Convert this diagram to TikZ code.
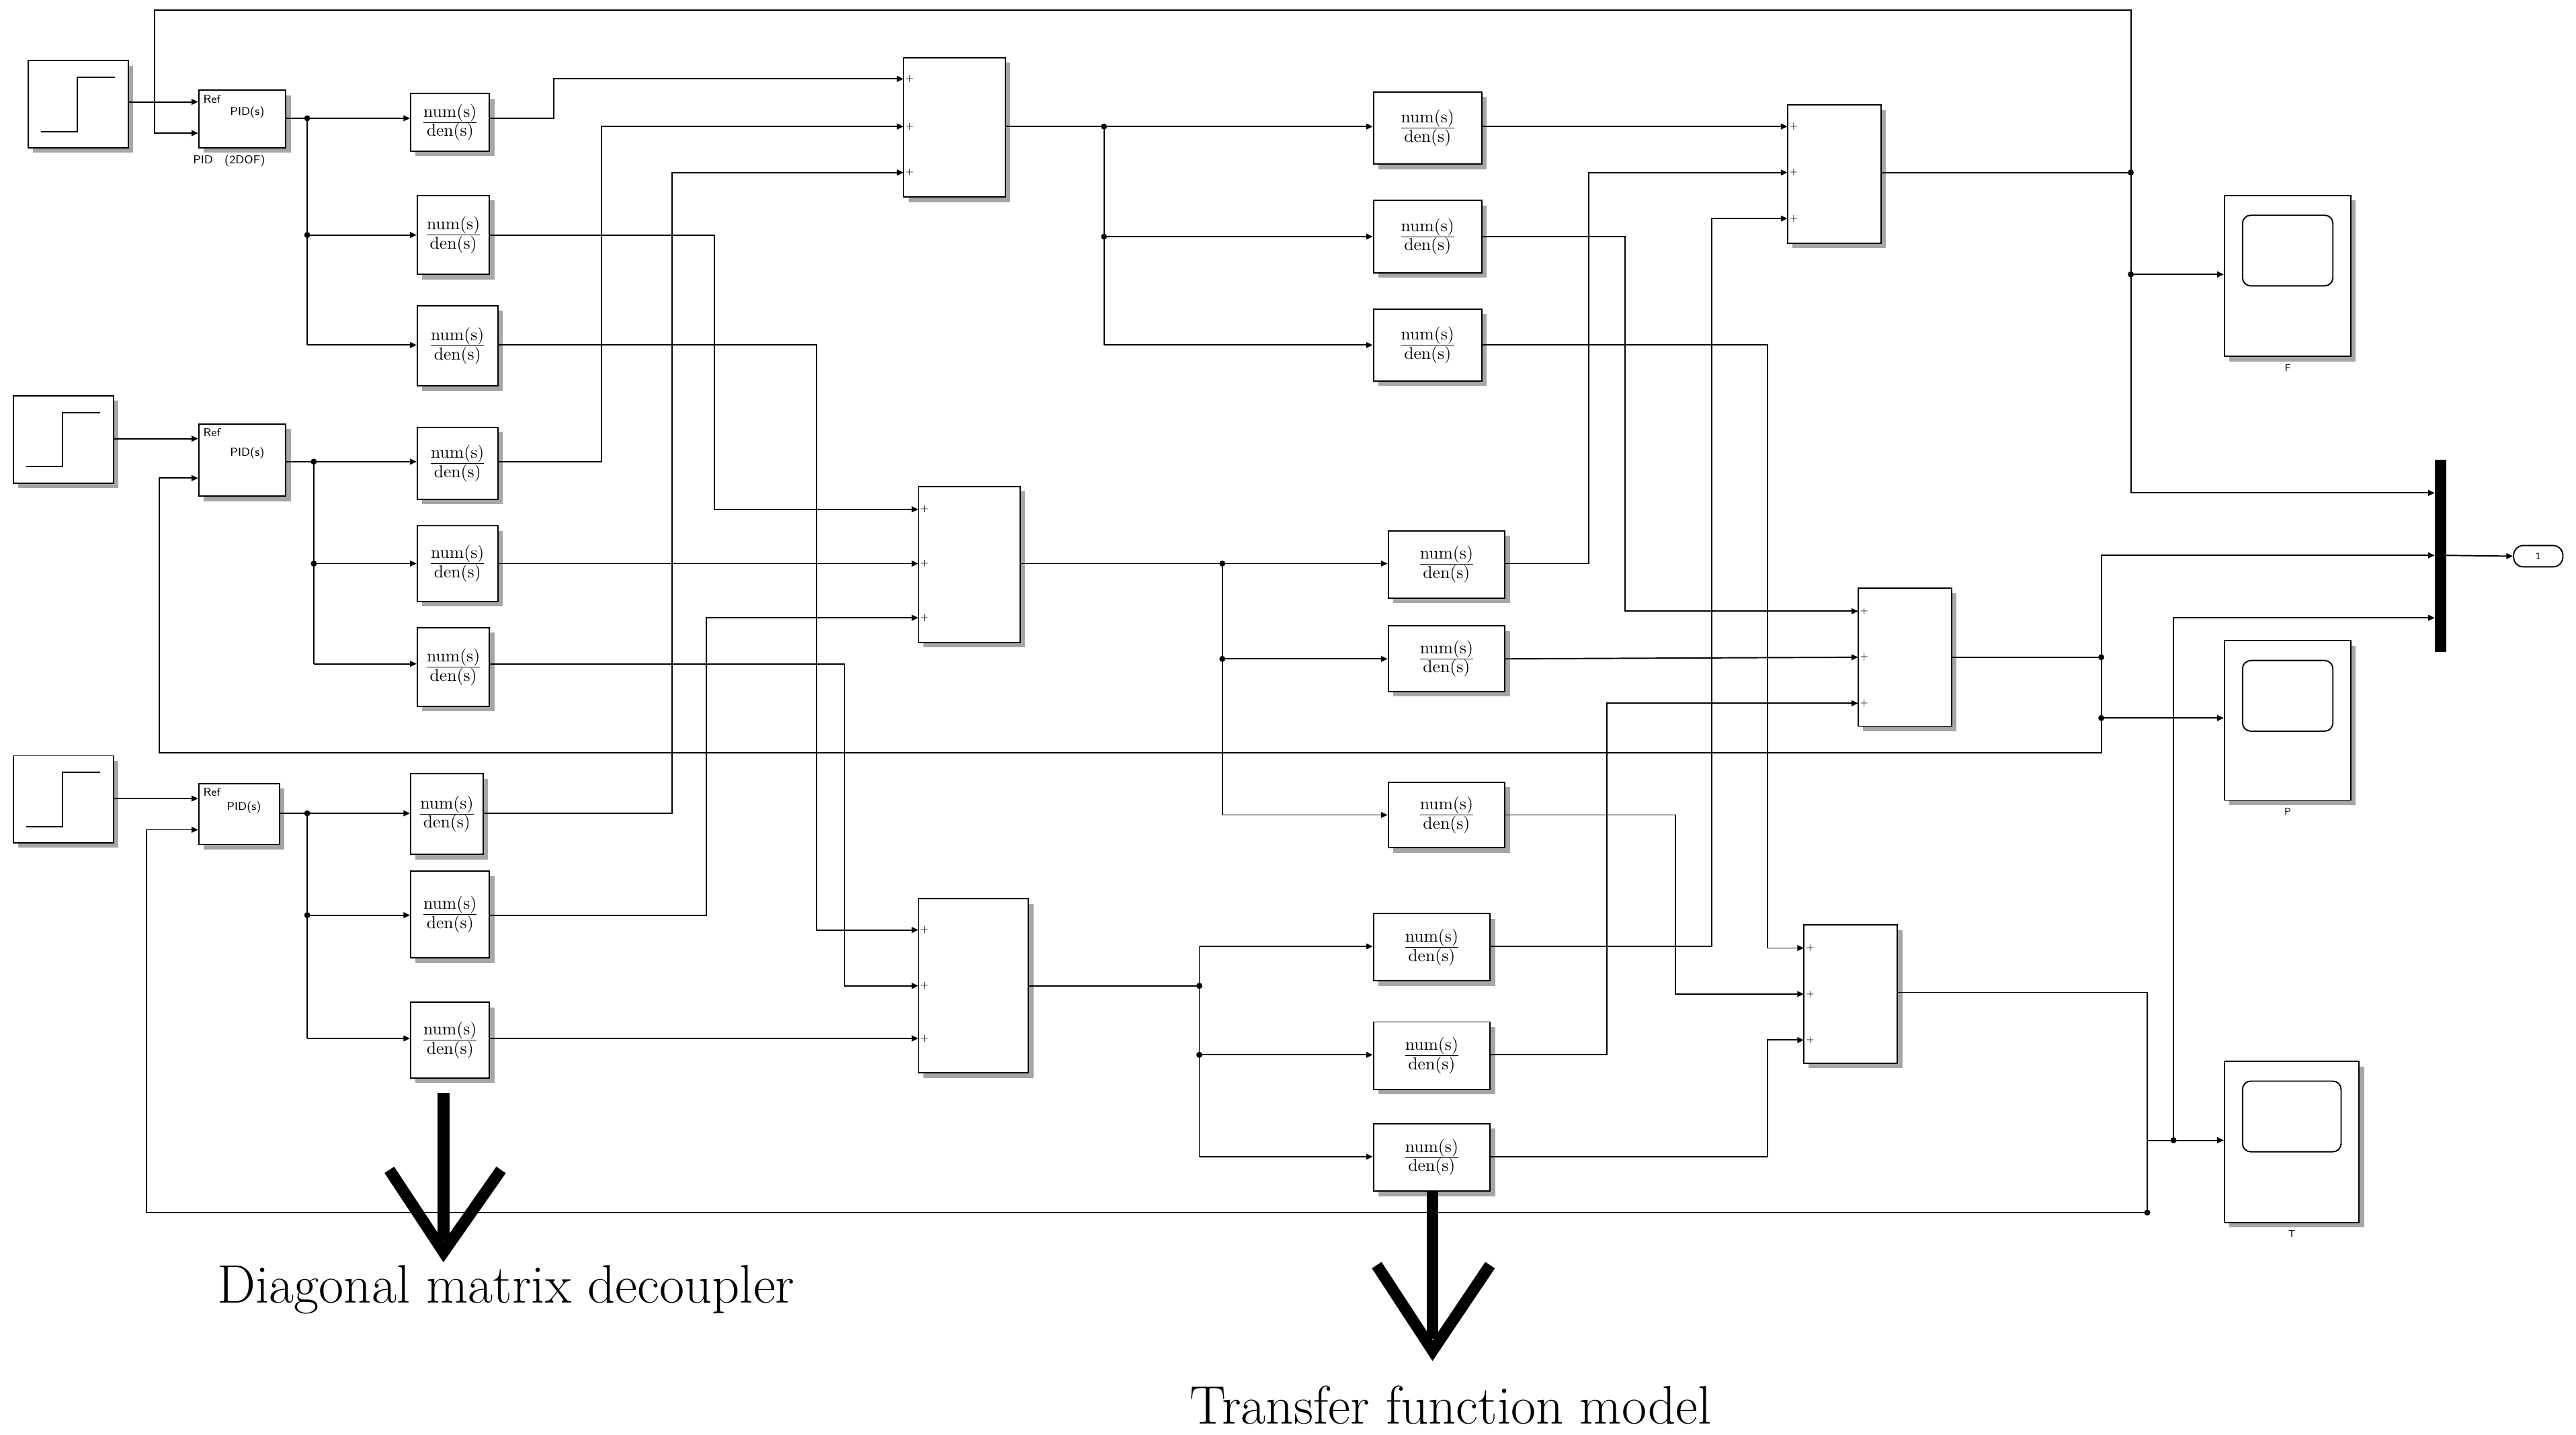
\documentclass[tikz,border=0pt]{standalone}
\usetikzlibrary{arrows.meta}
\begin{document}
\begin{tikzpicture}[x=1pt,y=-1pt,
  blk/.style={draw,line width=0.8pt,fill=white,inner sep=0pt},
  sig/.style={line width=0.8pt,-{Triangle[length=4pt,width=3.5pt]}},
  ln/.style={line width=0.8pt},
  dot/.style={circle,fill,inner sep=1.3pt},
  plus/.style={font=\fontsize{5}{5}\selectfont,anchor=west,inner sep=1pt}]
\useasboundingbox (0,0) rectangle (1568,873);
\fill[white] (0,0) rectangle (1568,873);
\newcommand\shbox[5]{%
  \fill[black!35] (#2+3,#3+3) rectangle (#4+3,#5+3);
  \node[blk,minimum width=#4-#2,minimum height=#5-#3] (#1) at ({(#2+#4)/2},{(#3+#5)/2}) {};}
\newcommand\tfbox[5]{\shbox{#1}{#2}{#3}{#4}{#5}%
  \node[font=\fontsize{10.5}{11}\selectfont] at (#1) {$\frac{\mbox{num(s)}}{\mbox{den(s)}}$};}
% steps
\foreach \n/\a/\b in {st1/17/37,st2/8/241,st3/8/460}{
  \shbox{\n}{\a}{\b}{\a+61}{\b+53}
  \draw[line width=0.8pt] (\a+8,\b+43) -- (\a+30,\b+43) -- (\a+30,\b+10) -- (\a+53,\b+10);}
% PIDs
\shbox{P1}{121}{55}{174}{90}
\shbox{P2}{121}{258}{174}{302}
\shbox{P3}{121}{477}{170}{514}
\foreach \p in {P1,P2,P3}{
  \node[font=\sffamily\fontsize{7}{7}\selectfont,anchor=north west,inner sep=1pt] at ([yshift=-2pt,xshift=2pt]\p.north west) {Ref};
  \node[font=\sffamily\fontsize{7}{7}\selectfont] at ([xshift=3pt,yshift=4pt]\p.center) {PID(s)};}
\node[font=\sffamily\fontsize{7}{7}\selectfont,anchor=north west] at (114,91) {PID\quad(2DOF)};
% decoupler TFs
\tfbox{D11}{250}{57}{298}{92}
\tfbox{D12}{254}{119}{298}{167}
\tfbox{D13}{254}{186}{303}{235}
\tfbox{D21}{254}{260}{303}{304}
\tfbox{D22}{254}{320}{303}{366}
\tfbox{D23}{254}{382}{298}{430}
\tfbox{D31}{250}{471}{294}{520}
\tfbox{D32}{250}{530}{298}{583}
\tfbox{D33}{250}{610}{298}{656}
% plant TFs
\tfbox{G11}{836}{56}{902}{100}
\tfbox{G12}{836}{122}{902}{166}
\tfbox{G13}{836}{188}{902}{232}
\tfbox{G21}{845}{323}{916}{364}
\tfbox{G22}{845}{381}{916}{421}
\tfbox{G23}{845}{476}{916}{516}
\tfbox{G31}{836}{556}{907}{597}
\tfbox{G32}{836}{622}{907}{663}
\tfbox{G33}{836}{684}{907}{725}
% sums
\shbox{S1}{550}{35}{612}{120}
\shbox{S2}{559}{296}{621}{391}
\shbox{S3}{559}{547}{626}{653}
\shbox{T1}{1088}{64}{1145}{148}
\shbox{T2}{1131}{358}{1188}{442}
\shbox{T3}{1098}{563}{1155}{647}
\foreach \s/\x/\a/\b/\c in {S1/550/48/77/105,S2/559/310/343/376,S3/559/566/600/632,T1/1088/77/105/133,T2/1131/372/400/428,T3/1098/577/605/633}{
  \coordinate (\s a) at (\x,\a); \coordinate (\s b) at (\x,\b); \coordinate (\s c) at (\x,\c);
  \foreach \y in {\a,\b,\c}{\node[plus] at (\x,\y) {+};}}
% scopes
\foreach \n/\a/\b/\c/\d/\l in {scF/1354/119/1431/217/F,scP/1354/390/1431/487/P,scT/1354/646/1436/744/T}{
  \shbox{\n}{\a}{\b}{\c}{\d}
  \draw[line width=0.8pt,rounded corners=5pt] (\a+11,\b+12) rectangle (\c-11,\b+55);
  \node[font=\sffamily\fontsize{6}{6}\selectfont] at ({(\a+\c)/2},\d+7) {\l};}
% mux and outport
\fill (1482,280) rectangle (1489,397);
\coordinate (M1) at (1482,300); \coordinate (M2) at (1482,338); \coordinate (M3) at (1482,376);
\node[draw,line width=0.8pt,rounded corners=6pt,minimum width=30pt,minimum height=13pt,inner sep=0pt,font=\sffamily\fontsize{6}{6}\selectfont] (out) at (1545,338.5) {1};
\draw[sig] (1489,338) -- (out.west);
% step -> PID
\draw[sig] (st1.east |- 0,62) -- (P1.west |- 0,62);
\draw[sig] (st2.east |- 0,267) -- (P2.west |- 0,267);
\draw[sig] (st3.east |- 0,486) -- (P3.west |- 0,486);
% PID outputs
\draw[sig] (P1.east |- 0,72) -- (D11.west |- 0,72);
\draw[ln] (187,72) -- (187,210);
\node[dot] at (187,72) {}; \node[dot] at (187,143) {};
\draw[sig] (187,143) -- (D12.west |- 0,143);
\draw[sig] (187,210) -- (D13.west |- 0,210);
\draw[sig] (P2.east |- 0,281) -- (D21.west |- 0,281);
\draw[ln] (191,281) -- (191,404);
\node[dot] at (191,281) {}; \node[dot] at (191,343) {};
\draw[sig] (191,343) -- (D22.west |- 0,343);
\draw[sig] (191,404) -- (D23.west |- 0,404);
\draw[sig] (P3.east |- 0,495) -- (D31.west |- 0,495);
\draw[ln] (187,495) -- (187,632);
\node[dot] at (187,495) {}; \node[dot] at (187,557) {};
\draw[sig] (187,557) -- (D32.west |- 0,557);
\draw[sig] (187,632) -- (D33.west |- 0,632);
% decoupler -> sums
\draw[sig] (D11.east |- 0,72) -- (337,72) -- (337,48) -- (S1a);
\draw[sig] (D21.east |- 0,281) -- (366,281) -- (366,77) -- (S1b);
\draw[sig] (D31.east |- 0,495) -- (409,495) -- (409,105) -- (S1c);
\draw[sig] (D12.east |- 0,143) -- (435,143) -- (435,310) -- (S2a);
\draw[sig] (D22.east |- 0,343) -- (S2b);
\draw[sig] (D32.east |- 0,557) -- (430,557) -- (430,376) -- (S2c);
\draw[sig] (D13.east |- 0,210) -- (497,210) -- (497,566) -- (S3a);
\draw[sig] (D23.east |- 0,404) -- (514,404) -- (514,600) -- (S3b);
\draw[sig] (D33.east |- 0,632) -- (S3c);
% sums -> plant
\draw[sig] (S1.east |- 0,77) -- (G11.west |- 0,77);
\draw[ln] (672,77) -- (672,210); \node[dot] at (672,77) {}; \node[dot] at (672,144) {};
\draw[sig] (672,144) -- (G12.west |- 0,144);
\draw[sig] (672,210) -- (G13.west |- 0,210);
\draw[sig] (S2.east |- 0,343) -- (G21.west |- 0,343);
\draw[ln] (744,343) -- (744,496); \node[dot] at (744,343) {}; \node[dot] at (744,401) {};
\draw[sig] (744,401) -- (G22.west |- 0,401);
\draw[sig] (744,496) -- (G23.west |- 0,496);
\draw[ln] (S3.east |- 0,600) -- (730,600);
\draw[ln] (730,576) -- (730,704); \node[dot] at (730,600) {}; \node[dot] at (730,642) {};
\draw[sig] (730,576) -- (G31.west |- 0,576);
\draw[sig] (730,642) -- (G32.west |- 0,642);
\draw[sig] (730,704) -- (G33.west |- 0,704);
% plant -> output sums
\draw[sig] (G11.east |- 0,77) -- (T1a);
\draw[sig] (G21.east |- 0,343) -- (967,343) -- (967,105) -- (T1b);
\draw[sig] (G31.east |- 0,576) -- (1042,576) -- (1042,133) -- (T1c);
\draw[sig] (G12.east |- 0,144) -- (989,144) -- (989,372) -- (T2a);
\draw[sig] (G22.east |- 0,401) -- (T2b);
\draw[sig] (G32.east |- 0,642) -- (978,642) -- (978,428) -- (T2c);
\draw[sig] (G13.east |- 0,210) -- (1076,210) -- (1076,577) -- (T3a);
\draw[sig] (G23.east |- 0,496) -- (1020,496) -- (1020,605) -- (T3b);
\draw[sig] (G33.east |- 0,704) -- (1076,704) -- (1076,633) -- (T3c);
% outputs and feedback
\draw[ln] (T1.east |- 0,105) -- (1297,105);
\node[dot] at (1297,105) {}; \node[dot] at (1297,167) {};
\draw[sig] (1297,105) -- (1297,300) -- (M1);
\draw[sig] (1297,167) -- (scF.west |- 0,167);
\draw[sig] (1297,105) -- (1297,6) -- (94,6) -- (94,81) -- (P1.west |- 0,81);
\draw[ln] (T2.east |- 0,400) -- (1279,400);
\node[dot] at (1279,400) {}; \node[dot] at (1279,437) {};
\draw[sig] (1279,400) -- (1279,338) -- (M2);
\draw[sig] (1279,437) -- (scP.west |- 0,437);
\draw[sig] (1279,400) -- (1279,458) -- (97,458) -- (97,291) -- (P2.west |- 0,291);
\draw[ln] (T3.east |- 0,604) -- (1307,604) -- (1307,738);
\node[dot] at (1307,738) {}; \node[dot] at (1323,694) {};
\draw[sig] (1307,694) -- (scT.west |- 0,694);
\draw[sig] (1323,694) -- (1323,376) -- (M3);
\draw[sig] (1307,738) -- (89,738) -- (89,505) -- (P3.west |- 0,505);
% big arrows and labels
\draw[line width=7pt] (270,665) -- (270,755);
\draw[line width=7pt,line join=miter,line cap=butt] (237,712) -- (270,762) -- (305,712);
\node[font=\fontsize{33}{36}\selectfont] (lab1) at (308,785) {Diagonal matrix decoupler};
\draw[line width=7pt] (872,725) -- (872,815);
\draw[line width=7pt,line join=miter,line cap=butt] (838,770) -- (872,822) -- (907,770);
\node[font=\fontsize{33}{36}\selectfont] (lab2) at (883,855) {Transfer function model};
\end{tikzpicture}
\end{document}
